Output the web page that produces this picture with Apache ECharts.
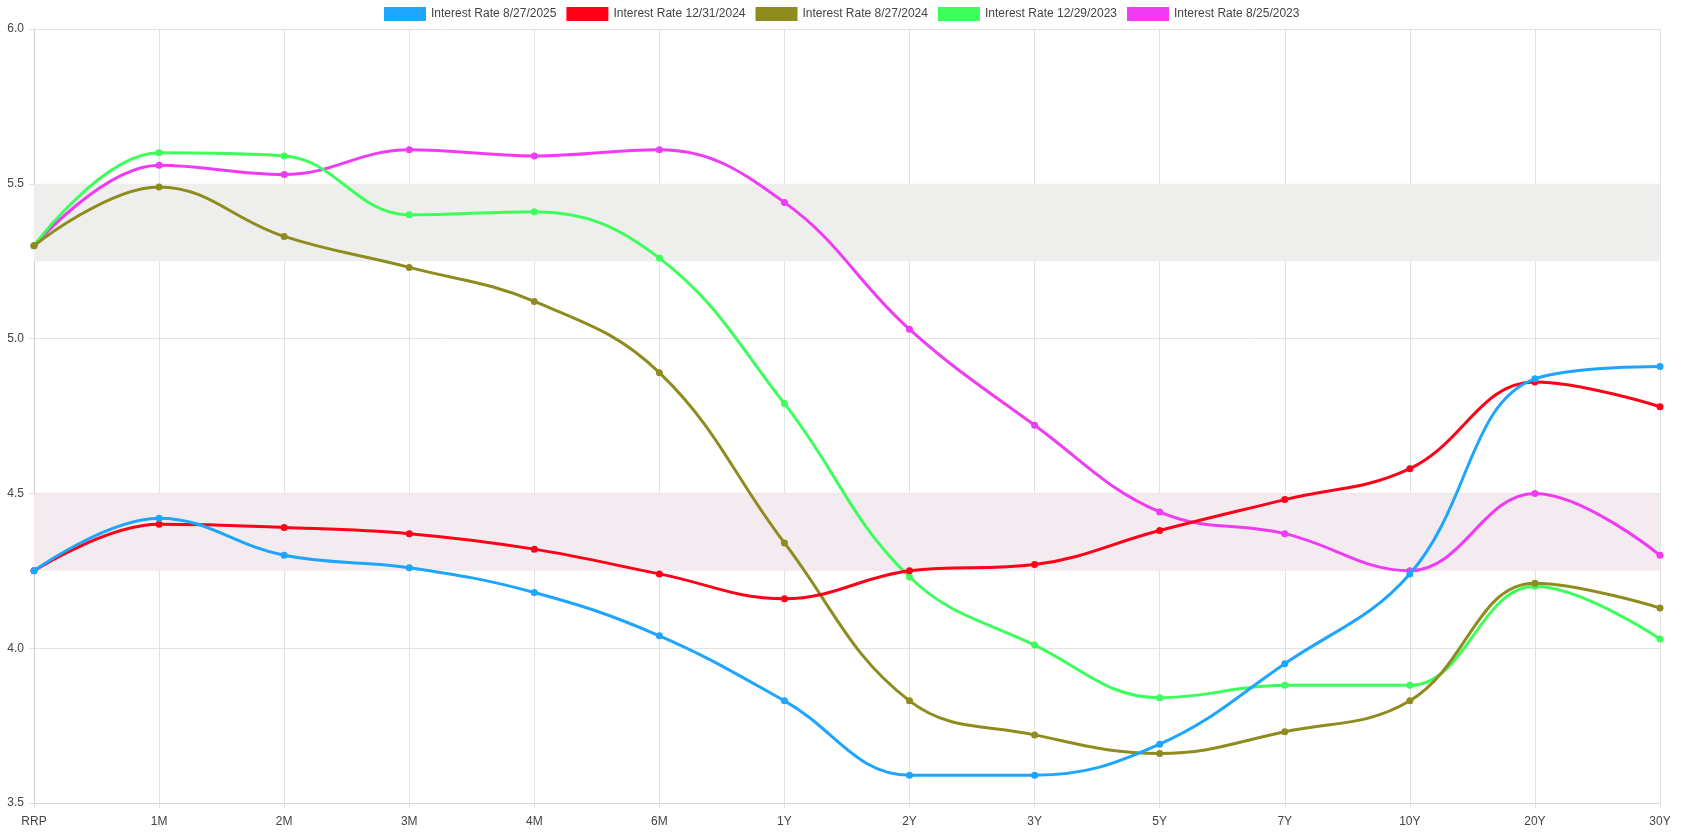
<!DOCTYPE html>
<html>
<head>
<meta charset="utf-8">
<script src="https://cdn.jsdelivr.net/npm/echarts@6/dist/echarts.min.js"></script>
<style>
html,body{margin:0;padding:0;background:#fff;}
#chart{width:1695px;height:834px;}
</style>
</head>
<body>
<div id="chart"></div>
<script>
const categories = ['RRP','1M','2M','3M','4M','6M','1Y','2Y','3Y','5Y','7Y','10Y','20Y','30Y'];
const seriesNames = ['Interest Rate 8/27/2025','Interest Rate 12/31/2024','Interest Rate 8/27/2024','Interest Rate 12/29/2023','Interest Rate 8/25/2023'];
const rate20250827 = [4.25,4.42,4.30,4.26,4.18,4.04,3.83,3.59,3.59,3.69,3.95,4.24,4.87,4.91];
const rate20241231 = [4.25,4.40,4.39,4.37,4.32,4.24,4.16,4.25,4.27,4.38,4.48,4.58,4.86,4.78];
const rate20240827 = [5.30,5.49,5.33,5.23,5.12,4.89,4.34,3.83,3.72,3.66,3.73,3.83,4.21,4.13];
const rate20231229 = [5.30,5.60,5.59,5.40,5.41,5.26,4.79,4.23,4.01,3.84,3.88,3.88,4.20,4.03];
const rate20230825 = [5.30,5.56,5.53,5.61,5.59,5.61,5.44,5.03,4.72,4.44,4.37,4.25,4.50,4.30];
const seriesValues = [rate20250827, rate20241231, rate20240827, rate20231229, rate20230825];
const colors = ['#1ea5fd','#ff0018','#8f8c1f','#3dff5c','#ef3cf4'];
const bandUpper = [5.25, 5.5];
const bandLower = [4.25, 4.5];

const chart = echarts.init(document.getElementById('chart'));
const font = '"Liberation Sans", Arial, Helvetica, sans-serif';

const series = seriesValues.map((vals, i) => ({
  name: seriesNames[i],
  type: 'line',
  data: vals,
  smooth: 0.4,
  symbol: 'circle',
  symbolSize: 7,
  z: 10 - i,
  lineStyle: { width: 3, color: colors[i] },
  itemStyle: { color: colors[i] },
  emphasis: { disabled: true },
  animation: false
}));

series.push({
  name: 'bands',
  type: 'line',
  data: [],
  z: 1,
  silent: true,
  animation: false,
  markArea: {
    silent: true,
    data: [
      [{ yAxis: bandUpper[0], itemStyle: { color: '#eeeeec' } }, { yAxis: bandUpper[1] }],
      [{ yAxis: bandLower[0], itemStyle: { color: '#f3ebf0' } }, { yAxis: bandLower[1] }]
    ]
  }
});

chart.setOption({
  animation: false,
  color: colors,
  textStyle: { fontFamily: font },
  legend: {
    data: seriesNames,
    top: 2,
    left: 379,
    itemWidth: 42,
    itemHeight: 14,
    itemGap: 10,
    icon: 'rect',
    textStyle: { fontSize: 12, color: '#444', fontFamily: font }
  },
  grid: { left: 34, right: 35, top: 29, bottom: 31, containLabel: false },
  xAxis: {
    type: 'category',
    data: categories,
    boundaryGap: false,
    axisLine: { show: true, lineStyle: { color: '#d4d4d4' } },
    axisTick: { show: true, length: 5, alignWithLabel: true, lineStyle: { color: '#e2e2e2' } },
    axisLabel: { color: '#444', fontSize: 12, margin: 13, fontFamily: font },
    splitLine: { show: true, lineStyle: { color: '#e2e2e2' } }
  },
  yAxis: {
    type: 'value',
    min: 3.5,
    max: 6.0,
    interval: 0.5,
    axisLine: { show: true, lineStyle: { color: '#cdcdcd' } },
    axisTick: { show: true, length: 5, lineStyle: { color: '#e2e2e2' } },
    axisLabel: { color: '#444', fontSize: 12, margin: 10, fontFamily: font, formatter: v => v.toFixed(1) },
    splitLine: { show: true, lineStyle: { color: '#e2e2e2' } }
  },
  series: series
});
</script>
</body>
</html>
